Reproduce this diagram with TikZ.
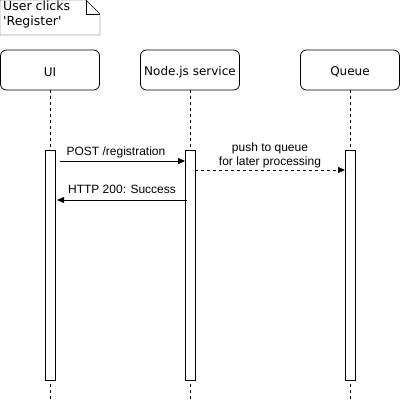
\documentclass[tikz,border=0pt]{standalone}
\usepackage{fontspec}
\setmainfont{DejaVu Sans}
\newfontfamily\lblfont{Liberation Sans}
\usetikzlibrary{arrows.meta}
\begin{document}
\begin{tikzpicture}[x=1pt,y=-1pt,
  lane/.style={draw,thick,rounded corners=6pt,minimum width=99pt,minimum height=40pt,inner sep=0pt},
  lanetxt/.style={font=\fontsize{12}{14}\selectfont,inner sep=0pt},
  act/.style={draw,thick,fill=white,minimum width=10pt,minimum height=230pt,inner sep=0pt},
  life/.style={dashed,thin,dash pattern=on 3pt off 3pt},
  msg/.style={-{Triangle[length=7pt,width=6pt]},thin},
  lbl/.style={font=\lblfont\fontsize{12}{14}\selectfont,inner sep=0pt,align=center}]
\useasboundingbox (0,0) rectangle (401,401);
% note
\draw[thin] (0,35) -- (0,0) -- (86,0) -- (100,14) -- (100,35) -- cycle;
\draw[thin] (86,0) -- (86,14) -- (100,14);
\node[anchor=north west,align=left,inner sep=0pt,font=\fontsize{12.5}{14.5}\selectfont] (note) at (3,1) {User clicks\\\textquotesingle Register\textquotesingle};
% lanes
\node[lane] (ui) at (50,70) {};
\node[lane] (ns) at (190,70) {};
\node[lane] (q) at (350,70) {};
\node[lanetxt] (uit) at (50,72) {UI};
\node[lanetxt] (nst) at (190,72) {Node.js service};
\node[lanetxt] (qt) at (350,72) {Queue};
\coordinate (uiend) at (50,401);
\coordinate (nsend) at (190,401);
\coordinate (qend) at (350,401);
\draw[life] (ui.south) -- (uiend);
\draw[life] (ns.south) -- (nsend);
\draw[life] (q.south) -- (qend);
\node[act] (uia) at (50,265) {};
\node[act] (nsa) at (190,265) {};
\node[act] (qa) at (350,265) {};
% messages
\coordinate (m1s) at (60,161);
\coordinate (m1e) at (185,161);
\draw[msg] (m1s) -- (m1e);
\node[lbl] (l1) at (116,152) {POST /registration};
\coordinate (m2s) at (195,170);
\coordinate (m2e) at (345,170);
\draw[msg,dashed,dash pattern=on 3pt off 3pt] (m2s) -- (m2e);
\node[lbl] (l2) at (270,155) {push to queue\\for later processing};
\coordinate (m3s) at (187,200);
\coordinate (m3e) at (57,200);
\draw[msg] (m3s) -- (m3e);
\node[lbl] (l3) at (122,189) {HTTP 200: Success};
\end{tikzpicture}
\end{document}
